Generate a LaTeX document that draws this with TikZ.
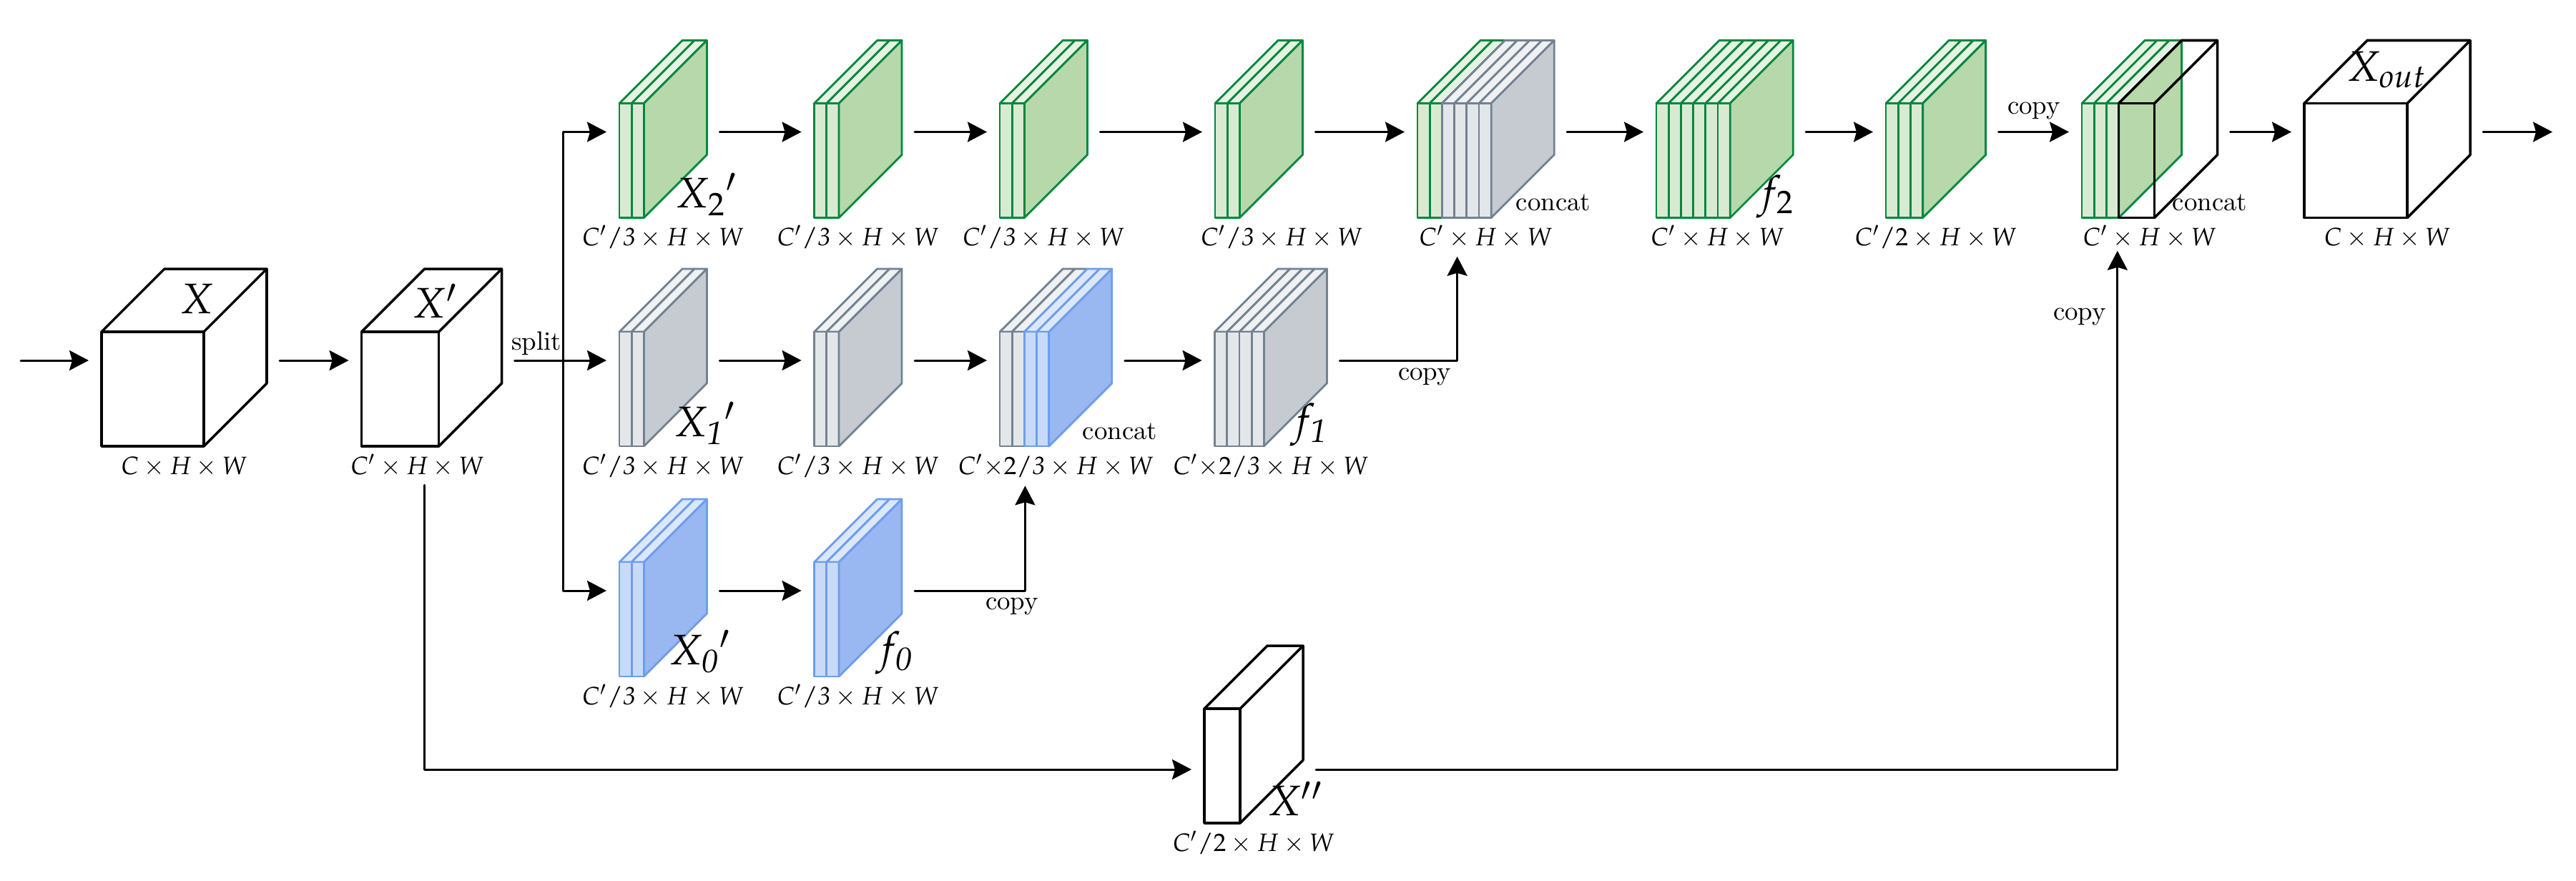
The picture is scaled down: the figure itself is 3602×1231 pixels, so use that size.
\documentclass[tikz,border=0pt]{standalone}
\usepackage{amsmath, amssymb}
\usepackage{mathpazo}
\usepackage{tikz}
\usetikzlibrary{arrows.meta,calc}

\definecolor{gline}{RGB}{0,136,62}
\definecolor{gfront}{RGB}{217,234,211}
\definecolor{gtop}{RGB}{230,242,226}
\definecolor{gside}{RGB}{183,216,170}
\definecolor{kline}{RGB}{115,130,145}
\definecolor{kfront}{RGB}{228,231,234}
\definecolor{ktop}{RGB}{239,241,243}
\definecolor{kside}{RGB}{198,203,210}
\definecolor{bline}{RGB}{109,158,235}
\definecolor{bfront}{RGB}{201,218,248}
\definecolor{btop}{RGB}{221,231,250}
\definecolor{bside}{RGB}{153,183,240}

\tikzset{
  cubeline/.style={draw=black, line width=1pt},
  arr/.style={-{Stealth[length=2.7mm,width=2.8mm,inset=0.4mm]}, line width=0.85pt},
  wire/.style={line width=0.85pt},
  blk/.style={inner sep=0pt, outer xsep=1.8mm, outer ysep=0pt, minimum height=24mm},
  dim/.style={anchor=base, yshift=-3.9mm, inner sep=1pt, font=\fontsize{10}{12}\selectfont},
  txt/.style={font=\fontsize{10.5}{12}\selectfont},
  big/.style={inner sep=0pt, font=\fontsize{17}{20}\selectfont},
}

% plates of a feature map: x, bottom y, count, colour (g, k, b)
\newcommand{\plates}[4]{%
  \foreach \k in {1,...,#3}{%
    \pgfmathsetmacro\px{#1+(\k-1)*17.2}
    \draw[draw=#4line, fill=#4top, line width=0.8pt] (\px,#2-160) -- ++(88,-88) -- ++(17.2,0) -- ++(-88,88) -- cycle;
    \draw[draw=#4line, fill=#4front, line width=0.8pt] (\px,#2) rectangle ++(17.2,-160);
  }%
}
% right face of a feature map
\newcommand{\sideface}[3]{%
  \draw[draw=#3line, fill=#3side, line width=0.8pt] (#1,#2) -- ++(0,-160) -- ++(88,-88) -- ++(0,160) -- cycle;
}
% invisible node over the footprint: name, x, bottom y, width
\newcommand{\blocknode}[4]{%
  \pgfmathsetmacro\bw{(#4)*0.1}
  \node[blk, minimum width=\bw mm] (#1) at ({#2+(#4)/2},{#3-120}) {};
}
% whole feature map: name, x, bottom y, count, colour
\newcommand{\fmap}[5]{%
  \plates{#2}{#3}{#4}{#5}
  \sideface{#2+#4*17.2}{#3}{#5}
  \blocknode{#1}{#2}{#3}{#4*17.2+88}
}
% open black tensor: x, bottom y, width
\newcommand{\tensorbox}[3]{%
  \draw[cubeline] (#1,#2) rectangle ++(#3,-160);
  \draw[cubeline] (#1,#2-160) -- ++(88,-88) -- ++(#3,0) -- ++(0,160) -- ++(-88,88);
  \draw[cubeline] (#1+#3,#2-160) -- ++(88,-88);
}

\begin{document}
\begin{tikzpicture}[x=0.1mm, y=-0.1mm, line cap=round, line join=round]
  \useasboundingbox (0,0) rectangle (3602,1231);

  % Input tensors
  \tensorbox{142}{624}{143}
  \blocknode{x}{142}{624}{231}
  \tensorbox{505.6}{624}{108}
  \blocknode{xp}{505.6}{624}{196}
  \tensorbox{1684}{1151}{50}
  \blocknode{xpp}{1684}{1151}{138}

  % Branch 2 (top)
  \fmap{x2a}{866}{304.5}{2}{g}
  \fmap{x2b}{1138.6}{304.5}{2}{g}
  \fmap{x2c}{1398}{304.5}{2}{g}
  \fmap{x2d}{1699}{304.5}{2}{g}
  \plates{1982}{304.5}{2}{g}
  \plates{1982+2*17.2}{304.5}{4}{k}
  \sideface{1982+6*17.2}{304.5}{k}
  \blocknode{catA}{1982}{304.5}{6*17.2+88}
  \fmap{f2}{2316}{304.5}{6}{g}
  \fmap{h2}{2637}{304.5}{3}{g}
  \plates{2911}{304.5}{3}{g}
  \sideface{2911+3*17.2}{304.5}{g}
  \tensorbox{2962.6}{304.5}{50}
  \blocknode{catB}{2911}{304.5}{189.6}
  \tensorbox{3222}{304.5}{144}
  \blocknode{xo}{3222}{304.5}{232}

  % Branch 1 (middle)
  \fmap{x1a}{866}{624}{2}{k}
  \fmap{x1b}{1138.6}{624}{2}{k}
  \plates{1398}{624}{2}{k}
  \plates{1398+2*17.2}{624}{2}{b}
  \sideface{1398+4*17.2}{624}{b}
  \blocknode{catM}{1398}{624}{4*17.2+88}
  \fmap{f1}{1698.6}{624}{4}{k}

  % Branch 0 (bottom)
  \fmap{x0a}{866}{946}{2}{b}
  \fmap{f0}{1138.6}{946}{2}{b}

  % Names
  \node[big] (lx) at (275,418) {$X$};
  \node[big] (lxp) at (608,421) {$X'$};
  \node[big] (lx2) at (988,272) {$X_2{}'$};
  \node[big] (lx1) at (986,592) {$X_{\mathit{1}}{}'$};
  \node[big] (lx0) at (979,911) {$X_{\mathit{0}}{}'$};
  \node[big] (lf0) at (1251,913) {$f_{\mathit{0}}$};
  \node[big] (lf1) at (1831,594) {$f_{\mathit{1}}$};
  \node[big] (lf2) at (2483,275) {$f_2$};
  \node[big] (lxpp) at (1811,1117) {$X''$};
  \node[big] (lxo) at (3337,98) {$X_{out}$};

  % Sizes
  \node[dim] (x-d) at (x.south) {$C\times H\times W$};
  \node[dim, xshift=-2mm] (xp-d) at (xp.south) {$C'\times H\times W$};
  \node[dim] (xpp-d) at (xpp.south) {$C'/2\times H\times W$};
  \node[dim] (x2a-d) at (x2a.south) {$C'/\mathit{3}\times H\times W$};
  \node[dim] (x2b-d) at (x2b.south) {$C'/\mathit{3}\times H\times W$};
  \node[dim] (x2c-d) at (x2c.south) {$C'/\mathit{3}\times H\times W$};
  \node[dim, xshift=3.2mm] (x2d-d) at (x2d.south) {$C'/\mathit{3}\times H\times W$};
  \node[dim] (catA-d) at (catA.south) {$C'\times H\times W$};
  \node[dim, xshift=-1mm] (f2-d) at (f2.south) {$C'\times H\times W$};
  \node[dim] (h2-d) at (h2.south) {$C'/2\times H\times W$};
  \node[dim] (catB-d) at (catB.south) {$C'\times H\times W$};
  \node[dim] (xo-d) at (xo.south) {$C\times H\times W$};
  \node[dim] (x1a-d) at (x1a.south) {$C'/\mathit{3}\times H\times W$};
  \node[dim] (x1b-d) at (x1b.south) {$C'/\mathit{3}\times H\times W$};
  \node[dim] (catM-d) at (catM.south) {$C'{\times}2/\mathit{3}\times H\times W$};
  \node[dim] (f1-d) at (f1.south) {$C'{\times}2/\mathit{3}\times H\times W$};
  \node[dim] (x0a-d) at (x0a.south) {$C'/\mathit{3}\times H\times W$};
  \node[dim] (f0-d) at (f0.south) {$C'/\mathit{3}\times H\times W$};

  % Words
  \node[txt] (split) at (750,480) {split};
  \node[txt] (cp0) at (1415,848) {copy};
  \node[txt] (cp1) at (1992,527) {copy};
  \node[txt] (cp2) at (2844,155) {copy};
  \node[txt] (cp3) at (2908,443) {copy};
  \node[txt] (cc1) at (1566,603) {concat};
  \node[txt] (cc2) at (2172,283) {concat};
  \node[txt] (cc3) at (3090,283) {concat};

  % Flow
  \coordinate (in) at (29,504);
  \coordinate (sp) at (787,504);
  \coordinate (out) at (3569,184.5);
  \draw[arr] (in) -- (x.west);
  \draw[arr] (x.east) -- (xp.west);
  \draw[wire] (xp.east) -- (sp);
  \draw[arr] (sp) |- (x2a.west);
  \draw[arr] (sp) -- (x1a.west);
  \draw[arr] (sp) |- (x0a.west);
  \foreach \a/\b in {x2a/x2b, x2b/x2c, x2c/x2d, x2d/catA, catA/f2, f2/h2, h2/catB, catB/xo,
                     x1a/x1b, x1b/catM, catM/f1, x0a/f0}
    \draw[arr] (\a.east) -- (\b.west);
  \draw[arr] (xo.east) -- (out);

  % Copies
  \draw[arr] (f1.east) -| ([xshift=-4mm,yshift=-0.8mm]catA-d.south);
  \draw[arr] (f0.east) -| ([xshift=-4.3mm,yshift=-0.8mm]catM-d.south);
  \draw[arr] ($(xp.south |- xp-d.south)+(-10,8)$) |- ([yshift=-4.5mm]xpp.west);
  \draw[arr] ([yshift=-4.5mm]xpp.east) -| ([xshift=-4.5mm]catB-d.south);
\end{tikzpicture}
\end{document}
